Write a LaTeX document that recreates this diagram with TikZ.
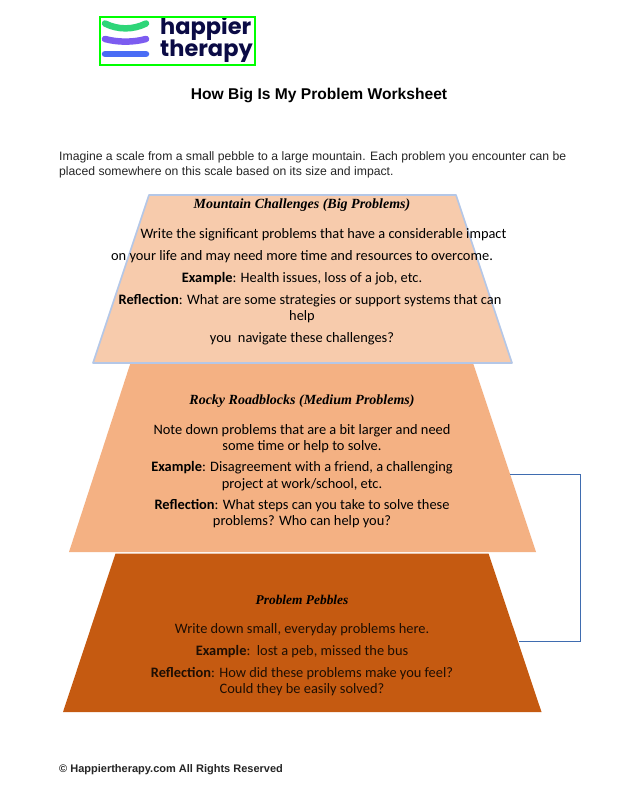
\documentclass[tikz,border=0pt]{standalone}
\usepackage{fontspec}
\setmainfont{Carlito}
\newfontfamily\arial{Liberation Sans}
\newfontfamily\scriptf{Liberation Serif}
\newfontfamily\logof{Poppins}
\definecolor{topfill}{HTML}{F7CBAC}
\definecolor{midfill}{HTML}{F4B183}
\definecolor{lowfill}{HTML}{C55A11}
\definecolor{topedge}{HTML}{B4C7E7}
\definecolor{linkblue}{HTML}{3F6CB0}
\definecolor{logonavy}{HTML}{0B0B45}
\definecolor{barG}{HTML}{2ED678}
\definecolor{barP}{HTML}{7C5CF0}
\definecolor{barB}{HTML}{4A6CF5}
\definecolor{logoG}{HTML}{00FF00}
\tikzset{
  body/.style={anchor=base,inner sep=0pt,font=\fontsize{14.4}{17}\selectfont,text=black},
  lowbody/.style={body,text=black!85!lowfill},
  head/.style={anchor=base,inner sep=0pt,font=\fontsize{14}{17}\scriptf\bfseries\itshape,text=black},
  sans/.style={anchor=base west,inner sep=0pt,font=\fontsize{12.2}{14}\arial,text=black!85},
  bar/.style={line width=6.5pt,line cap=round},
  logotext/.style={anchor=base west,inner sep=0pt,font=\fontsize{22.5}{24}\logof\bfseries,text=logonavy}
}
\begin{document}
\begin{tikzpicture}[x=1pt,y=-1pt]
\useasboundingbox[fill=white] (0,0) rectangle (616,786);
% logo
\draw[bar,barG] (105,23.5) .. controls (118,30) and (133,30) .. (146,23.5);
\draw[bar,barP] (105,39) .. controls (118,42.5) and (133,42.5) .. (146,39);
\draw[bar,barB] (105,54) -- (146,54);
\node[logotext] (logoa) at (160,35) {happier};
\node[logotext] (logob) at (160,57) {therapy};
\draw[line width=2pt,logoG] (100,17) rectangle (255,65);
% title and intro
\node[anchor=base,inner sep=0pt,font=\fontsize{15.6}{18}\arial\bfseries,text=black] (title) at (319,100) {How Big Is My Problem Worksheet};
\node[sans] (introa) at (59,161) {Imagine a scale from a small pebble to a large mountain. Each problem you encounter can be};
\node[sans] (introb) at (59,176) {placed somewhere on this scale based on its size and impact.};
% pyramid
\fill[lowfill] (115.5,553.5) -- (488.5,553.5) -- (541.5,712) -- (63,712) -- cycle;
\fill[midfill] (130.5,363) -- (473,363) -- (536,552) -- (69,552) -- cycle;
\draw[topedge,fill=topfill,line width=1.6pt,line join=round] (149,195) -- (456,195) -- (512,363) -- (93,363) -- cycle;
% connector
\coordinate (linka) at (510,474);
\coordinate (linkb) at (519,641);
\draw[linkblue,line width=0.8pt] (linka) -- (580,474) -- (580,641) -- (linkb);
% top block
\node[head] (h1) at (302,208) {Mountain Challenges (Big Problems)};
\node[body] (a1) at (323.5,238) {Write the significant problems that have a considerable impact};
\node[body] (a2) at (302,260) {on your life and may need more time and resources to overcome.};
\node[body] (a3) at (302,282) {\textbf{Example}: Health issues, loss of a job, etc.};
\node[body] (a4) at (310,304) {\textbf{Reflection}: What are some strategies or support systems that can};
\node[body] (a5) at (302,320) {help};
\node[body] (a6) at (302,342) {you\ \ navigate these challenges?};
% middle block
\node[head] (h2) at (302,404) {Rocky Roadblocks (Medium Problems)};
\node[body] (b1) at (302,434) {Note down problems that are a bit larger and need};
\node[body] (b2) at (302,450) {some time or help to solve.};
\node[body] (b3) at (302,471) {\textbf{Example}: Disagreement with a friend, a challenging};
\node[body] (b4) at (302,488) {project at work/school, etc.};
\node[body] (b5) at (302,509) {\textbf{Reflection}: What steps can you take to solve these};
\node[body] (b6) at (302,525) {problems? Who can help you?};
% lower block
\node[head,font=\fontsize{13.4}{17}\scriptf\bfseries\itshape] (h3) at (302,604) {Problem Pebbles};
\node[lowbody] (c1) at (302,633) {Write down small, everyday problems here.};
\node[lowbody] (c2) at (302,655) {\textbf{Example}:\ \ lost a peb, missed the bus};
\node[lowbody] (c3) at (302,677) {\textbf{Reflection}: How did these problems make you feel?};
\node[lowbody] (c4) at (302,693) {Could they be easily solved?};
% footer
\node[anchor=base west,inner sep=0pt,font=\fontsize{11}{13}\arial\bfseries,text=black!85] (foot) at (59,772) {© Happiertherapy.com All Rights Reserved};
\end{tikzpicture}
\end{document}
